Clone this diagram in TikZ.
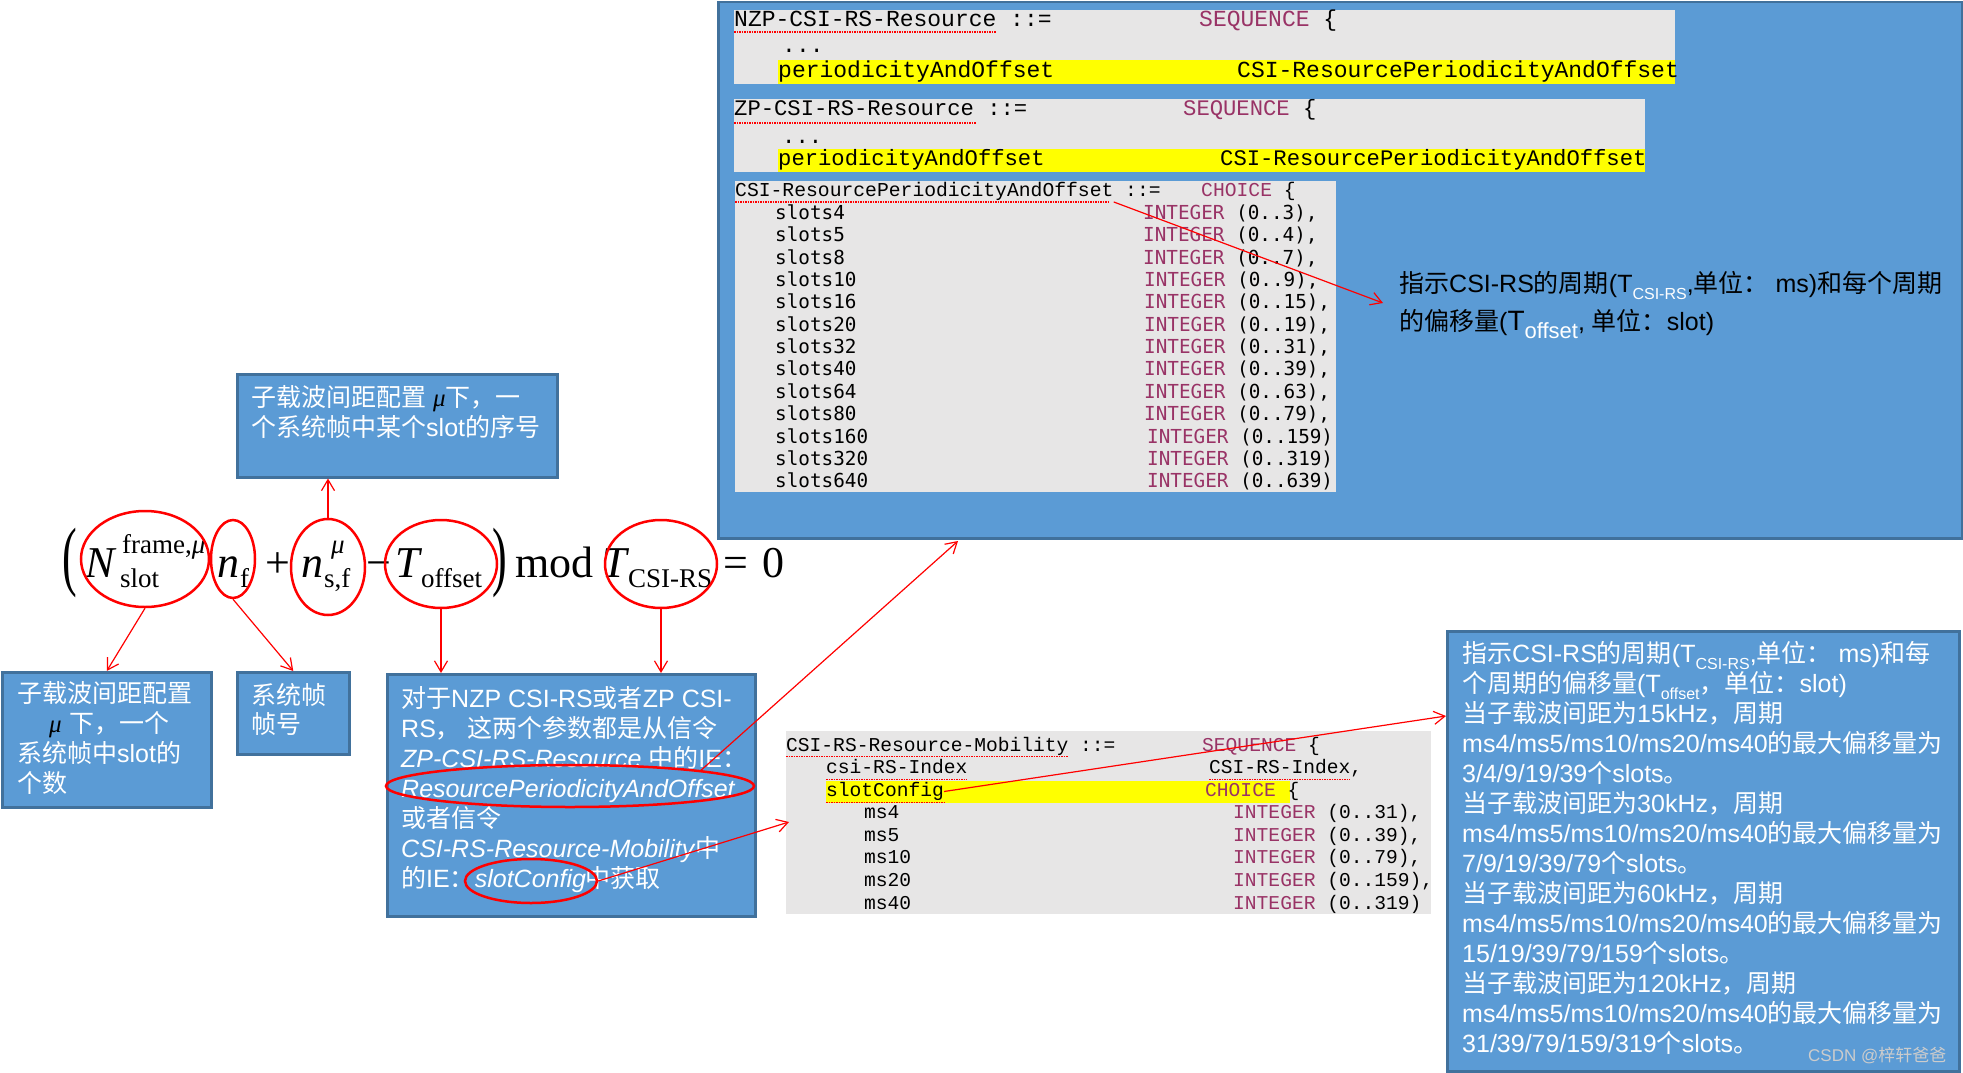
\documentclass[tikz,border=0pt]{standalone}
\usepackage{graphicx}
\usepackage{fontspec}
\setmainfont{Liberation Sans}
\newfontfamily\cjk{Noto Sans CJK SC}
\newfontfamily\codef{Liberation Mono}
\newfontfamily\codeg{DejaVu Sans Mono}
\newfontfamily\timesf{Liberation Serif}
\usetikzlibrary{arrows.meta,shapes.geometric}
\definecolor{boxblue}{RGB}{91,155,213}
\definecolor{boxedge}{RGB}{65,113,156}
\definecolor{codebg}{RGB}{231,230,230}
\definecolor{kw}{RGB}{153,51,102}
\definecolor{hl}{RGB}{255,255,0}
\newcommand\zh[1]{{\cjk #1}}
\newcommand\sbs[1]{\raisebox{-0.28em}{\fontsize{16}{16}\selectfont #1}}
\newcommand\mumu{{\color{black}\timesf\itshape μ}}
\newcommand\fstrut{\rule{0pt}{23pt}}
\tikzset{
  bluebox/.style={draw=boxedge, fill=boxblue, line width=2.5pt, rectangle, inner sep=0pt, anchor=north west},
  txt/.style={anchor=north west, inner sep=0pt, align=left, font=\fontsize{25}{30}\selectfont},
  wtxt/.style={txt, text=white},
  nzp/.style={anchor=west, inner sep=0pt, text height=17pt, text depth=6pt, font=\codef\fontsize{23}{25}\selectfont},
  zpc/.style={anchor=west, inner sep=0pt, text height=16.5pt, text depth=5.5pt, font=\codef\fontsize{22.2}{24}\selectfont},
  h3c/.style={anchor=west, inner sep=0pt, text height=14.5pt, text depth=5pt, font=\codef\fontsize{19.7}{22}\selectfont},
  h3r/.style={anchor=west, inner sep=0pt, text height=14pt, text depth=5pt, font=\codeg\fontsize{19.3}{22}\selectfont},
  mobc/.style={anchor=west, inner sep=0pt, text height=14.5pt, text depth=5pt, font=\codef\fontsize{19.6}{22}\selectfont},
  fm/.style={anchor=base west, inner sep=0pt, font=\timesf\fontsize{44}{50}\selectfont},
  fs/.style={anchor=base west, inner sep=0pt, font=\timesf\fontsize{27}{30}\selectfont},
  fp/.style={anchor=base west, inner sep=0pt, font=\timesf\fontsize{44}{50}\selectfont},
  ell/.style={ellipse, draw=red, line width=2.5pt, inner sep=0pt},
  arr/.style={draw=red, line width=1.2pt, -{Straight Barb[length=11pt,width=13pt]}},
  squig/.style={red, densely dotted, line width=1.5pt}
}
\begin{document}
\begin{tikzpicture}[x=1pt,y=-1pt]
\useasboundingbox (0,0) rectangle (1963,1073);
\fill[white] (0,0) rectangle (1963,1073);

% ---------- big top-right box ----------
\node[bluebox, minimum width=1244pt, minimum height=536pt] (big) at (717,1) {};

% NZP
\fill[codebg] (734,10) rectangle (1675,84);
\fill[hl] (778,60) rectangle (1675,84);
\node[nzp] (nzpname) at (734,21) {NZP-CSI-RS-Resource ::=};
\node[nzp] (nzpseq) at (1199,21) {\textcolor{kw}{SEQUENCE} \{};
\draw[squig] (734,32) -- (996,32);
\node[nzp] (nzpdots) at (782,47) {...};
\node[nzp] (nzpp) at (778,72) {periodicityAndOffset};
\node[nzp] (nzpt) at (1237,72) {CSI-ResourcePeriodicityAndOffset};

% ZP
\fill[codebg] (734,99) rectangle (1645,172);
\fill[hl] (778,149) rectangle (1645,172);
\node[zpc] (zpname) at (734,110) {ZP-CSI-RS-Resource ::=};
\node[zpc] (zpseq) at (1183,110) {\textcolor{kw}{SEQUENCE} \{};
\draw[squig] (734,123) -- (976,123);
\node[zpc] (zpdots) at (782,138) {...};
\node[zpc] (zpp) at (778,160) {periodicityAndOffset};
\node[zpc] (zpt) at (1220,160) {CSI-ResourcePeriodicityAndOffset};

% CSI-ResourcePeriodicityAndOffset
\fill[codebg] (735,181) rectangle (1336,492);
\node[h3c] (h3name) at (735,192) {CSI-ResourcePeriodicityAndOffset};
\node[h3c] (h3def) at (1125,192) {::=};
\node[h3c] (h3ch) at (1201,192) {\textcolor{kw}{CHOICE} \{};
\draw[squig] (735,202) -- (1110,202);
\foreach \nm/\rg/\xx [count=\i from 0] in {
 slots4/{(0..3),}/1143, slots5/{(0..4),}/1143, slots8/{(0..7),}/1143,
 slots10/{(0..9),}/1144, slots16/{(0..15),}/1144, slots20/{(0..19),}/1144,
 slots32/{(0..31),}/1144, slots40/{(0..39),}/1144, slots64/{(0..63),}/1144,
 slots80/{(0..79),}/1144, slots160/{(0..159)}/1147, slots320/{(0..319)}/1147,
 slots640/{(0..639)}/1147}
{
 \node[h3r] (s\i) at (775,{215+22.35*\i}) {\nm};
 \node[h3r] (r\i) at (\xx,{215+22.35*\i}) {\textcolor{kw}{INTEGER} \rg};
}

% right-top explanation
\node[txt, font=\fontsize{25}{38}\selectfont] (rtxt) at (1399,269.5)
 {\fstrut\zh{指示}CSI-RS\zh{的周期}(T\sbs{\color{white}CSI-RS},\zh{单位：} ms)\zh{和每个周期}\\
  \zh{的偏移量}({\fontsize{28}{28}\selectfont T}\raisebox{-0.3em}{\fontsize{22}{22}\selectfont\color{white}offset}, \zh{单位：}slot)};

% ---------- formula ----------
\node[fp] (lpar) at (62,581.5) {\scalebox{1}[1.75]{(}};
\node[fm] (fN) at (85,577) {\itshape N};
\node[fs] (fNsup) at (122,553) {frame,\itshape μ};
\node[fs] (fNsub) at (120,587) {slot};
\node[fm] (fn1) at (217,577) {\itshape n};
\node[fs] (fn1sub) at (240,587) {f};
\node[fm] (fplus) at (265,577) {+};
\node[fm] (fn2) at (301,577) {\itshape n};
\node[fs] (fn2sup) at (331,553) {\itshape μ};
\node[fs] (fn2sub) at (324,587) {s,f};
\node[fm] (fminus) at (366,577) {−};
\node[fm] (fT1) at (395,577) {\itshape T};
\node[fs] (fT1sub) at (421,587) {offset};
\node[fp] (rpar) at (492,581.5) {\scalebox{1}[1.75]{)}};
\node[fm] (fmod) at (515,577) {mod};
\node[fm] (fT2) at (602,577) {\itshape T};
\node[fs] (fT2sub) at (628,587) {CSI-RS};
\node[fm] (feq) at (723,577) {=};
\node[fm] (fzero) at (762,577) {0};

% ---------- left boxes ----------
\node[bluebox, minimum width=320pt, minimum height=103pt] (btop) at (236,373) {};
\node[wtxt] (btoptxt) at (251,383.5)
 {\fstrut\zh{子载波间距配置} \mumu\zh{下，一}\\
  \zh{个系统帧中某个}slot\zh{的序号}};

\node[bluebox, minimum width=209pt, minimum height=135pt] (b1) at (1,671) {};
\node[wtxt] (b1txt) at (17,679.5)
 {\fstrut\zh{子载波间距配置}\\
  \hspace*{32pt}\mumu\hspace{8pt}\zh{下，一个}\\
  \zh{系统帧中}slot\zh{的}\\
  \zh{个数}};

\node[bluebox, minimum width=112pt, minimum height=82pt] (b2) at (236,671) {};
\node[wtxt, font=\fontsize{25}{29}\selectfont] (b2txt) at (251,681.5)
 {\fstrut\zh{系统帧}\\ \zh{帧号}};

\node[bluebox, minimum width=368pt, minimum height=242pt] (b3) at (386,673) {};
\node[wtxt] (b3txt) at (401,684.5)
 {\fstrut\zh{对于}NZP CSI-RS\zh{或者}ZP CSI-\\
  RS\zh{，} \zh{这两个参数都是从信令}\\
  \textit{ZP-CSI-RS-Resource} \zh{中的}IE\zh{：}\\
  \textit{ResourcePeriodicityAndOffset}\\
  \zh{或者信令}\\
  \textit{CSI-RS-Resource-Mobility}\zh{中}\\
  \zh{的}IE\zh{：}\textit{slotConfig}\zh{中获取}};

% ---------- mobility code ----------
\fill[codebg] (786,731) rectangle (1431,914);
\fill[hl] (826,781) rectangle (1290,803);
\node[mobc] (mobname) at (786,746.5) {CSI-RS-Resource-Mobility ::=};
\draw[squig] (786,756.5) -- (1068,756.5);
\node[mobc] (mobseq) at (1202,746.5) {\textcolor{kw}{SEQUENCE} \{};
\node[mobc] (csiidx) at (826,769) {csi-RS-Index};
\draw[squig] (826,779.5) -- (967,779.5);
\node[mobc] (csiidxt) at (1209,769) {CSI-RS-Index,};
\draw[squig] (1209,779.5) -- (1350,779.5);
\node[mobc] (slotcfg) at (826,791.5) {slotConfig};
\draw[squig] (826,802.5) -- (944,802.5);
\node[mobc] (slotch) at (1205,791.5) {\textcolor{kw}{CHOICE} \{};
\foreach \nm/\rg [count=\i from 0] in {ms4/{(0..31),}, ms5/{(0..39),}, ms10/{(0..79),}, ms20/{(0..159),}, ms40/{(0..319)}}
{
 \node[mobc] (m\i) at (864,{814+22.6*\i}) {\nm};
 \node[mobc] (mr\i) at (1233,{814+22.6*\i}) {\textcolor{kw}{INTEGER} \rg};
}

% ---------- right-bottom box ----------
\node[bluebox, minimum width=512pt, minimum height=440pt] (rb) at (1446,630) {};
\node[wtxt] (rbtxt) at (1462,639.5)
 {\fstrut\zh{指示}CSI-RS\zh{的周期}(T\sbs{CSI-RS},\zh{单位：} ms)\zh{和每}\\
  \zh{个周期的偏移量}(T\sbs{offset}\zh{，单位：}slot)\\
  \zh{当子载波间距为}15kHz\zh{，周期}\\
  ms4/ms5/ms10/ms20/ms40\zh{的最大偏移量为}\\
  3/4/9/19/39\zh{个}slots\zh{。}\\
  \zh{当子载波间距为}30kHz\zh{，周期}\\
  ms4/ms5/ms10/ms20/ms40\zh{的最大偏移量为}\\
  7/9/19/39/79\zh{个}slots\zh{。}\\
  \zh{当子载波间距为}60kHz\zh{，周期}\\
  ms4/ms5/ms10/ms20/ms40\zh{的最大偏移量为}\\
  15/19/39/79/159\zh{个}slots\zh{。}\\
  \zh{当子载波间距为}120kHz\zh{，周期}\\
  ms4/ms5/ms10/ms20/ms40\zh{的最大偏移量为}\\
  31/39/79/159/319\zh{个}slots\zh{。}};
\node[anchor=west, inner sep=0pt, text=white!80!black, font=\fontsize{17}{17}\selectfont] (wm) at (1808,1055) {CSDN @\zh{梓轩爸爸}};

% ---------- ellipses ----------
\node[ell, minimum width=128pt, minimum height=96pt] (eN) at (145,559) {};
\node[ell, minimum width=44pt, minimum height=78pt] (enf) at (233,559) {};
\node[ell, minimum width=74pt, minimum height=96pt] (ensf) at (328,567) {};
\node[ell, minimum width=112pt, minimum height=88pt] (eTo) at (441,564) {};
\node[ell, minimum width=112pt, minimum height=88pt] (eTc) at (661,564) {};
\node[ell, minimum width=368pt, minimum height=42pt] (eR) at (570,786) {};
\node[ell, minimum width=132pt, minimum height=44pt] (eS) at (531,881) {};

% ---------- connectors ----------
\coordinate (tBig) at (958,541);
\coordinate (tMob) at (789,822);
\coordinate (tRT) at (1383,303);
\coordinate (tRB) at (1446,716);
\draw[arr] (eN.south) -- (b1.north);
\draw[arr] (enf.south) -- (b2.north);
\draw[arr] (ensf.north) -- (ensf.north |- btop.south);
\draw[arr] (eTo.south) -- (eTo.south |- b3.north);
\draw[arr] (eTc.south) -- (eTc.south |- b3.north);
\draw[arr] (eR.north east) -- (tBig);
\draw[arr] (eS.east) -- (tMob);
\draw[arr] (h3name.south east) -- (tRT);
\draw[arr] (slotcfg.east) -- (tRB);
\end{tikzpicture}
\end{document}
